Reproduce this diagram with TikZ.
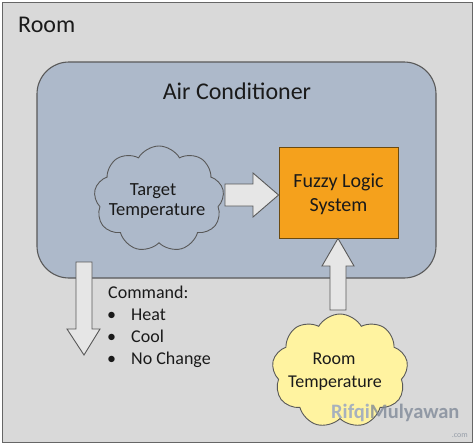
\documentclass[tikz,border=0pt]{standalone}
\usepackage{fontspec}
\setmainfont{Carlito}
\usetikzlibrary{shapes.symbols}
\definecolor{roombg}{HTML}{D9D9D9}
\definecolor{acfill}{HTML}{ADB9CA}
\definecolor{edge}{HTML}{595959}
\definecolor{fuzzyfill}{HTML}{F5A11C}
\definecolor{fuzzyedge}{HTML}{6B4A10}
\definecolor{cloudyel}{HTML}{FFF3A0}
\definecolor{arrowfill}{HTML}{E6E6E6}
\definecolor{txt}{HTML}{1A1A1A}
\definecolor{wmblue}{HTML}{8A9CC8}
\definecolor{wmgray}{HTML}{7A8494}
\tikzset{
  blockarrow/.style={fill=arrowfill, draw=edge, line width=0.9pt, line join=miter},
  cloudbox/.style={cloud, cloud puffs=9, cloud puff arc=120, cloud ignores aspect, draw=edge, line width=0.9pt, inner sep=0pt},
  lbl/.style={text=txt, inner sep=0pt},
}
\begin{document}
\begin{tikzpicture}[x=1pt,y=-1pt]
\useasboundingbox (0,0) rectangle (474,445);
\fill[white] (0,0) rectangle (474,445);
\draw[fill=roombg, draw=gray!80!black, line width=0.8pt] (2,2) rectangle (472,442);
\node[lbl, anchor=base west, font=\fontsize{24}{28}\selectfont] (room) at (18,32) {Room};

% Air conditioner
\draw[fill=acfill, draw=edge, line width=1.1pt, rounded corners=32pt] (37,62) rectangle (436,278);
\node[lbl, anchor=base, font=\fontsize{24}{28}\selectfont] (ac) at (237,99) {Air Conditioner};

% Target temperature cloud
\node[cloudbox, fill=acfill, minimum width=130pt, minimum height=106pt] (tcloud) at (159,199) {};
\node[lbl, anchor=base, font=\fontsize{18.5}{22}\selectfont] (t1) at (153,195) {Target};
\node[lbl, anchor=base, font=\fontsize{18.5}{22}\selectfont] (t2) at (157,215) {Temperature};

% Fuzzy logic system
\node[draw=fuzzyedge, fill=fuzzyfill, line width=0.9pt, minimum width=119pt, minimum height=91pt, inner sep=0pt] (fuzzy) at (338.5,192.5) {};
\node[lbl, anchor=base, font=\fontsize{20}{24}\selectfont] (f1) at (338.5,187) {Fuzzy Logic};
\node[lbl, anchor=base, font=\fontsize{20}{24}\selectfont] (f2) at (338.5,211) {System};

% arrow target -> fuzzy
\draw[blockarrow] (225,184) -- (253,184) -- (253,173) -- (fuzzy.west |- 0,195) -- (253,217) -- (253,206) -- (225,206) -- cycle;

% Room temperature cloud
\node[cloudbox, fill=cloudyel, minimum width=136pt, minimum height=114pt] (rcloud) at (340,371) {};
\node[lbl, anchor=base, font=\fontsize{18}{22}\selectfont] (r1) at (334,364) {Room};
\node[lbl, anchor=base, font=\fontsize{18}{22}\selectfont] (r2) at (335,387) {Temperature};

% arrow room temp -> fuzzy
\draw[blockarrow] (330,310) -- (330,266) -- (322,266) -- (fuzzy.south -| 338,0) -- (354,266) -- (346,266) -- (346,310) -- cycle;

% command arrow down
\draw[blockarrow] (76,262) -- (92,262) -- (92,329) -- (100,329) -- (84,355) -- (67,329) -- (76,329) -- cycle;

% Command list
\node[lbl, anchor=base west, font=\fontsize{18}{22}\selectfont] (cmd) at (108,298) {Command:};
\node[lbl, anchor=base west, font=\fontsize{18}{22}\selectfont] (b1) at (107,320) {•};
\node[lbl, anchor=base west, font=\fontsize{18}{22}\selectfont] (h) at (131,320) {Heat};
\node[lbl, anchor=base west, font=\fontsize{18}{22}\selectfont] (b2) at (107,342) {•};
\node[lbl, anchor=base west, font=\fontsize{18}{22}\selectfont] (c) at (131,342) {Cool};
\node[lbl, anchor=base west, font=\fontsize{18}{22}\selectfont] (b3) at (107,364) {•};
\node[lbl, anchor=base west, font=\fontsize{18}{22}\selectfont] (n) at (131,364) {No Change};

% watermark
\node[inner sep=0pt, anchor=base west, font=\bfseries\fontsize{20.5}{24}\selectfont, opacity=0.75] (wm) at (331,418) {\textcolor{wmblue}{Rifqi}\textcolor{wmgray}{Mulyawan}};
\node[inner sep=0pt, anchor=base east, font=\fontsize{8}{10}\selectfont, text=wmgray, opacity=0.7] (wmc) at (468,437) {.com};
\end{tikzpicture}
\end{document}
